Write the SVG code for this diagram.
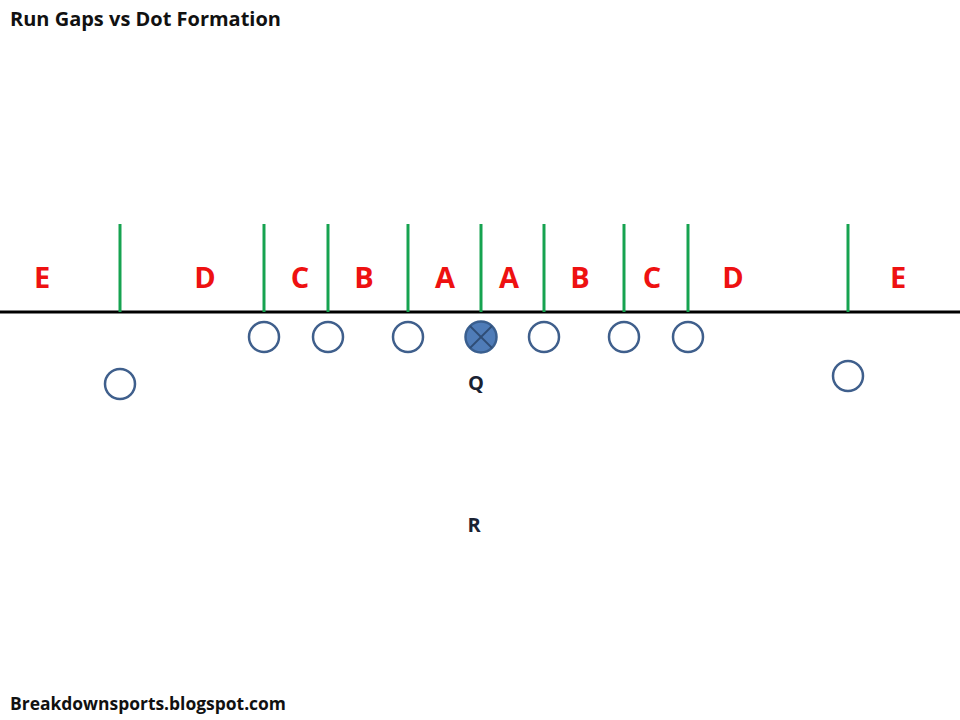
<svg xmlns="http://www.w3.org/2000/svg" width="960" height="720" viewBox="0 0 960 720">
<style>
.t{font-family:"Open Sans","Liberation Sans",sans-serif;font-weight:bold;fill:#111}
.gap{font-family:"Open Sans","Liberation Sans",sans-serif;font-weight:bold;font-size:29px;fill:#ee1111;text-anchor:middle}
.g{stroke:#16a350;stroke-width:3}
.p{fill:#fff;stroke:#3f5f8c;stroke-width:2.5}
.lbl{font-family:"Open Sans","Liberation Sans",sans-serif;font-weight:bold;font-size:20px;fill:#1a2233;text-anchor:middle}
</style>
<rect width="960" height="720" fill="#fff"/>
<text class="t" x="10" y="26" font-size="19" textLength="271" lengthAdjust="spacingAndGlyphs">Run Gaps vs Dot Formation</text>
<text class="t" x="10" y="710" font-size="18" textLength="276" lengthAdjust="spacingAndGlyphs">Breakdownsports.blogspot.com</text>
<g id="connectors">
<line x1="0" y1="312" x2="960" y2="312" stroke="#000" stroke-width="3"/>
<line class="g" x1="120" y1="224" x2="120" y2="312"/>
<line class="g" x1="264" y1="224" x2="264" y2="312"/>
<line class="g" x1="328" y1="224" x2="328" y2="312"/>
<line class="g" x1="408" y1="224" x2="408" y2="312"/>
<line class="g" x1="481" y1="224" x2="481" y2="312"/>
<line class="g" x1="544" y1="224" x2="544" y2="312"/>
<line class="g" x1="624" y1="224" x2="624" y2="312"/>
<line class="g" x1="688" y1="224" x2="688" y2="312"/>
<line class="g" x1="848" y1="224" x2="848" y2="312"/>
</g>
<g id="gaps">
<text class="gap" x="42" y="288">E</text>
<text class="gap" x="205" y="288">D</text>
<text class="gap" x="300" y="288">C</text>
<text class="gap" x="364" y="288">B</text>
<text class="gap" x="445" y="288">A</text>
<text class="gap" x="509" y="288">A</text>
<text class="gap" x="580" y="288">B</text>
<text class="gap" x="652" y="288">C</text>
<text class="gap" x="733" y="288">D</text>
<text class="gap" x="898" y="288">E</text>
</g>
<g id="wr-left"><circle class="p" cx="120" cy="384" r="15"/></g>
<g id="lt"><circle class="p" cx="264" cy="337" r="15"/></g>
<g id="lg"><circle class="p" cx="328" cy="337" r="15"/></g>
<g id="lg2"><circle class="p" cx="408" cy="337" r="15"/></g>
<g id="center">
<circle cx="481" cy="337" r="15.5" fill="#4f7cb8" stroke="#3a5f8f" stroke-width="2.5"/>
<line x1="470" y1="326" x2="492" y2="348" stroke="#2f4d75" stroke-width="1.8"/>
<line x1="492" y1="326" x2="470" y2="348" stroke="#2f4d75" stroke-width="1.8"/>
</g>
<g id="rg"><circle class="p" cx="544" cy="337" r="15"/></g>
<g id="rt"><circle class="p" cx="624" cy="337" r="15"/></g>
<g id="te"><circle class="p" cx="688" cy="337" r="15"/></g>
<g id="wr-right"><circle class="p" cx="848" cy="376" r="15"/></g>
<g id="qb"><text class="lbl" x="476" y="390">Q</text></g>
<g id="rb"><text class="lbl" x="474" y="532">R</text></g>
</svg>
